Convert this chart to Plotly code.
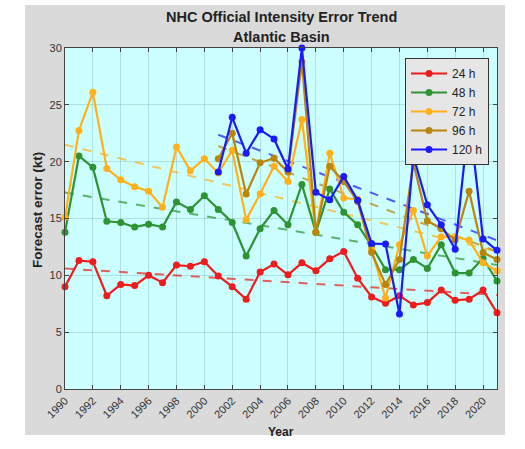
import numpy as np
import plotly.graph_objects as go

years = list(range(1990, 2022))
years_late = list(range(2001, 2022))

err_24 = [9.0, 11.3, 11.2, 8.2, 9.2, 9.1, 10.0, 9.35, 10.9, 10.8, 11.2,
          9.95, 9.0, 7.9, 10.3, 11.0, 10.05, 11.1, 10.4, 11.45, 12.1,
          9.75, 8.1, 7.55, 8.2, 7.4, 7.6, 8.7, 7.8, 7.9, 8.7, 6.7]
err_48 = [13.8, 20.5, 19.5, 14.75, 14.65, 14.25, 14.5, 14.25, 16.45, 15.8, 17.0,
          15.8, 14.65, 11.7, 14.1, 15.7, 14.45, 18.0, 13.8, 17.6, 15.55,
          14.45, 12.6, 10.5, 10.5, 11.4, 10.6, 12.7, 10.2, 10.2, 11.5, 9.5]
err_72 = [15.1, 22.75, 26.1, 19.4, 18.4, 17.8, 17.4, 16.0, 21.3, 19.2, 20.25,
          19.0, 21.0, 14.9, 17.15, 19.6, 18.25, 23.7, 13.8, 20.75, 16.8,
          16.7, 12.3, 8.0, 12.7, 15.7, 11.7, 13.4, 13.4, 13.1, 11.1, 10.4]
err_96 = [20.25, 22.5, 17.15, 19.9, 20.3, 19.1, 28.8, 13.8, 19.6, 18.25,
          16.5, 12.0, 9.2, 11.4, 19.9, 14.8, 14.1, 13.1, 17.4, 12.0, 11.4]
err_120 = [19.1, 23.9, 20.75, 22.8, 22.0, 19.35, 30.0, 17.3, 16.65, 18.7,
           16.6, 12.8, 12.75, 6.6, 20.5, 16.2, 14.45, 12.3, 24.0, 13.2, 12.2]

names = ["24 h", "48 h", "72 h", "96 h", "120 h"]
colors = ["#ee1c1c", "#2e9433", "#ffb01a", "#b8860b", "#1a1aff"]
series = [(years, err_24), (years, err_48), (years, err_72),
          (years_late, err_96), (years_late, err_120)]

fig = go.Figure()

# trend lines (least-squares fits of each series)
for (xs, ys), c in zip(series, colors):
    k, b = np.polyfit(xs, ys, 1)
    xe = [xs[0], xs[-1]]
    fig.add_trace(go.Scatter(x=xe, y=[k * v + b for v in xe], mode="lines",
                             line=dict(color=c, width=2, dash="dash"),
                             opacity=0.7, showlegend=False, hoverinfo="skip"))

for (xs, ys), c, n in zip(series, colors, names):
    fig.add_trace(go.Scatter(x=xs, y=ys, mode="lines+markers", name=n,
                             line=dict(color=c, width=2.2),
                             marker=dict(color=c, size=7),
                             cliponaxis=False))

L, R, T, B = 65, 28, 48, 60
W, H = 525, 449
pw, ph = W - L - R, H - T - B

def px_x(px):
    return (px - L) / pw

def px_y(py):
    return (H - B - py) / ph

fig.update_layout(
    width=W, height=H,
    margin=dict(l=L, r=R, t=T, b=B),
    paper_bgcolor="white",
    plot_bgcolor="#ccffff",
    font=dict(family="Liberation Sans, Arial, sans-serif", color="#333333", size=11),
    showlegend=True,
    legend=dict(x=px_x(405), y=px_y(58), xanchor="left", yanchor="top",
                bgcolor="#e6e6e6", bordercolor="#333333", borderwidth=1,
                font=dict(size=12, color="#222222"), tracegroupgap=0,
                itemwidth=36),
    shapes=[
        dict(type="rect", xref="paper", yref="paper",
             x0=px_x(25), x1=px_x(505), y0=px_y(435), y1=px_y(5),
             fillcolor="#dadada", line=dict(width=0), layer="below"),
        dict(type="rect", xref="paper", yref="paper",
             x0=0, x1=1, y0=0, y1=1,
             fillcolor="#ccffff", line=dict(width=0), layer="below"),
    ],
    annotations=[
        dict(text="<b>NHC Official Intensity Error Trend</b>", xref="paper", yref="paper",
             x=0.5, y=px_y(17), showarrow=False, xanchor="center", yanchor="middle",
             font=dict(size=14.5, color="#222222")),
        dict(text="<b>Atlantic Basin</b>", xref="paper", yref="paper",
             x=0.5, y=px_y(37), showarrow=False, xanchor="center", yanchor="middle",
             font=dict(size=14.5, color="#222222")),
        dict(text="<b>Year</b>", xref="paper", yref="paper",
             x=0.5, y=px_y(432), showarrow=False, xanchor="center", yanchor="middle",
             font=dict(size=12, color="#222222")),
        dict(text="<b>Forecast error (kt)</b>", xref="paper", yref="paper",
             x=px_x(37), y=px_y(210), showarrow=False, xanchor="center", yanchor="middle",
             textangle=-90, font=dict(size=13.5, color="#222222")),
    ],
)

fig.update_xaxes(range=[1990, 2021], tickmode="array",
                 tickvals=list(range(1990, 2021, 2)),
                 ticktext=[str(v) for v in range(1990, 2021, 2)],
                 tickangle=-45, ticks="inside", ticklen=4, tickcolor="#444444",
                 showline=True, linecolor="#444444", linewidth=1, mirror="ticks",
                 showgrid=True, gridcolor="rgba(0,60,60,0.15)", gridwidth=1,
                 zeroline=False, tickfont=dict(size=11, color="#333333"))
fig.update_yaxes(range=[0, 30], tickmode="array", tickvals=[0, 5, 10, 15, 20, 25, 30],
                 ticks="inside", ticklen=4, tickcolor="#444444",
                 showline=True, linecolor="#444444", linewidth=1, mirror="ticks",
                 showgrid=True, gridcolor="rgba(0,60,60,0.15)", gridwidth=1,
                 zeroline=False, tickfont=dict(size=11, color="#333333"))

fig.write_html("out.html", config={"displayModeBar": False},
               post_script="document.body.style.margin='0';")
